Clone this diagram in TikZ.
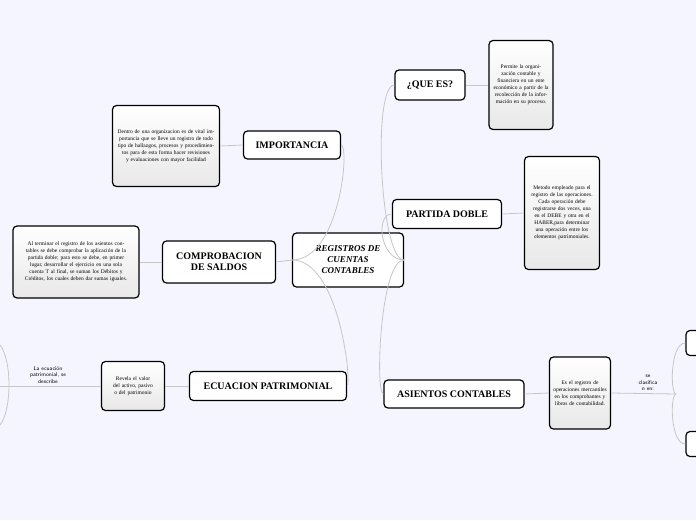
\documentclass[tikz,border=0pt]{standalone}
\usepackage{fontspec}
\setmainfont{Liberation Serif}
\begin{document}
\begin{tikzpicture}[x=1pt,y=-1pt,
 main/.style={draw=black,line width=1.2pt,rounded corners=4pt,fill=white,font=\bfseries\fontsize{10}{11}\selectfont,align=center,inner sep=3pt},
 sub/.style={draw=black,line width=1.2pt,rounded corners=4pt,top color=white,bottom color=gray!18,font=\fontsize{5.5}{7}\selectfont,align=center,inner sep=3pt},
 conn/.style={draw=gray!45,line width=0.8pt},
 lab/.style={font=\sffamily\fontsize{5.5}{6.5}\selectfont,align=center}]
\fill[blue!4] (0,0) rectangle (696,520);
\useasboundingbox (0,0) rectangle (696,520);
% center
\node[main,font=\bfseries\itshape\fontsize{9}{11}\selectfont,minimum width=111pt,minimum height=54pt] (c) at (348,260) {REGISTROS DE\\CUENTAS\\CONTABLES};
% right
\node[main,minimum width=70pt,minimum height=30pt] (q) at (430,85) {¿QUE ES?};
\node[sub,minimum width=64pt,minimum height=89pt,text width=56pt] (qs) at (521,85) {Permite la organización contable y financiera en un ente económico a partir de la recolección de la información en su proceso.};
\node[main,minimum width=109pt,minimum height=29pt] (p) at (447,214) {PARTIDA DOBLE};
\node[sub,minimum width=75pt,minimum height=113pt,text width=64pt] (ps) at (562,213) {Metodo empleado para el registro de las operaciones. Cada operación debe registrarse dos veces, una en el DEBE y otra en el HABER,para determinar una operación entre los elementos patrimoniales.};
\node[main,minimum width=140pt,minimum height=28pt] (a) at (454,394) {ASIENTOS CONTABLES};
\node[sub,minimum width=61pt,minimum height=72pt,text width=55pt] (as) at (580,393) {Es el registro de operaciones mercantiles en los comprobantes y libros de contabilidad.};
\node[lab] (cl) at (648,383) {se\\clasifica\\n en:};
\coordinate (br) at (676,394);
\node[main,minimum width=30pt,minimum height=25pt] (r1) at (701,343) {};
\node[main,minimum width=30pt,minimum height=25pt] (r2) at (701,444) {};
% left
\node[main,minimum width=97pt,minimum height=28pt] (i) at (292,145) {IMPORTANCIA};
\node[sub,minimum width=107pt,minimum height=81pt,text width=98pt] (is) at (166,146) {Dentro de una organizacion es de vital importancia que se lleve un registro de todo tipo de hallazgos, procesos y procedimientos para de esta forma hacer revisiones y evaluaciones con mayor facilidad};
\node[main,minimum width=113pt,minimum height=42pt] (k) at (219,262) {COMPROBACION\\DE SALDOS};
\node[sub,minimum width=126pt,minimum height=72pt,text width=118pt] (ks) at (76,262) {Al terminar el registro de los asientos contables se debe comprobar la aplicación de la partida doble; para esto se debe, en primer lugar, desarrollar el ejercicio en una sola cuenta T al final, se suman los Débitos y Créditos, los cuales deben dar sumas iguales.};
\node[main,minimum width=157pt,minimum height=29pt] (e) at (268,386) {ECUACION PATRIMONIAL};
\node[sub,minimum width=63pt,minimum height=49pt,text width=55pt] (es) at (133,386) {Revela el valor del activo, pasivo o del patrimonio};
\node[lab] (el) at (48,375) {La ecuación\\patrimonial, se\\describe};
\coordinate (bl) at (5,386);
% connectors
\begin{scope}[on background layer/.try]
\end{scope}
\draw[conn] (c.east) .. controls (380,260) and (372,85) .. (q.west);
\draw[conn] (c.east) .. controls (380,260) and (375,214) .. (p.west);
\draw[conn] (c.east) .. controls (380,260) and (375,394) .. (a.west);
\draw[conn] (c.west) .. controls (340,260) and (350,145) .. (i.east);
\draw[conn] (c.west) -- (k.east);
\draw[conn] (c.west) .. controls (340,260) and (352,386) .. (e.east);
\draw[conn] (q.east) -- (qs.west);
\draw[conn] (p.east) -- (ps.west);
\draw[conn] (a.east) -- (as.west);
\draw[conn] (i.west) -- (is.east);
\draw[conn] (k.west) -- (ks.east);
\draw[conn] (e.west) -- (es.west -| es.east);
\draw[conn] (as.east) -- (br);
\draw[conn] (br) .. controls (670,394) and (670,343) .. (r1.west);
\draw[conn] (br) .. controls (670,394) and (670,444) .. (r2.west);
\draw[conn] (es.west) -- (bl);
\draw[conn] (bl) -- (0,386);
\draw[conn] (0,345) .. controls (12,360) and (12,410) .. (0,425);
\end{tikzpicture}
\end{document}
